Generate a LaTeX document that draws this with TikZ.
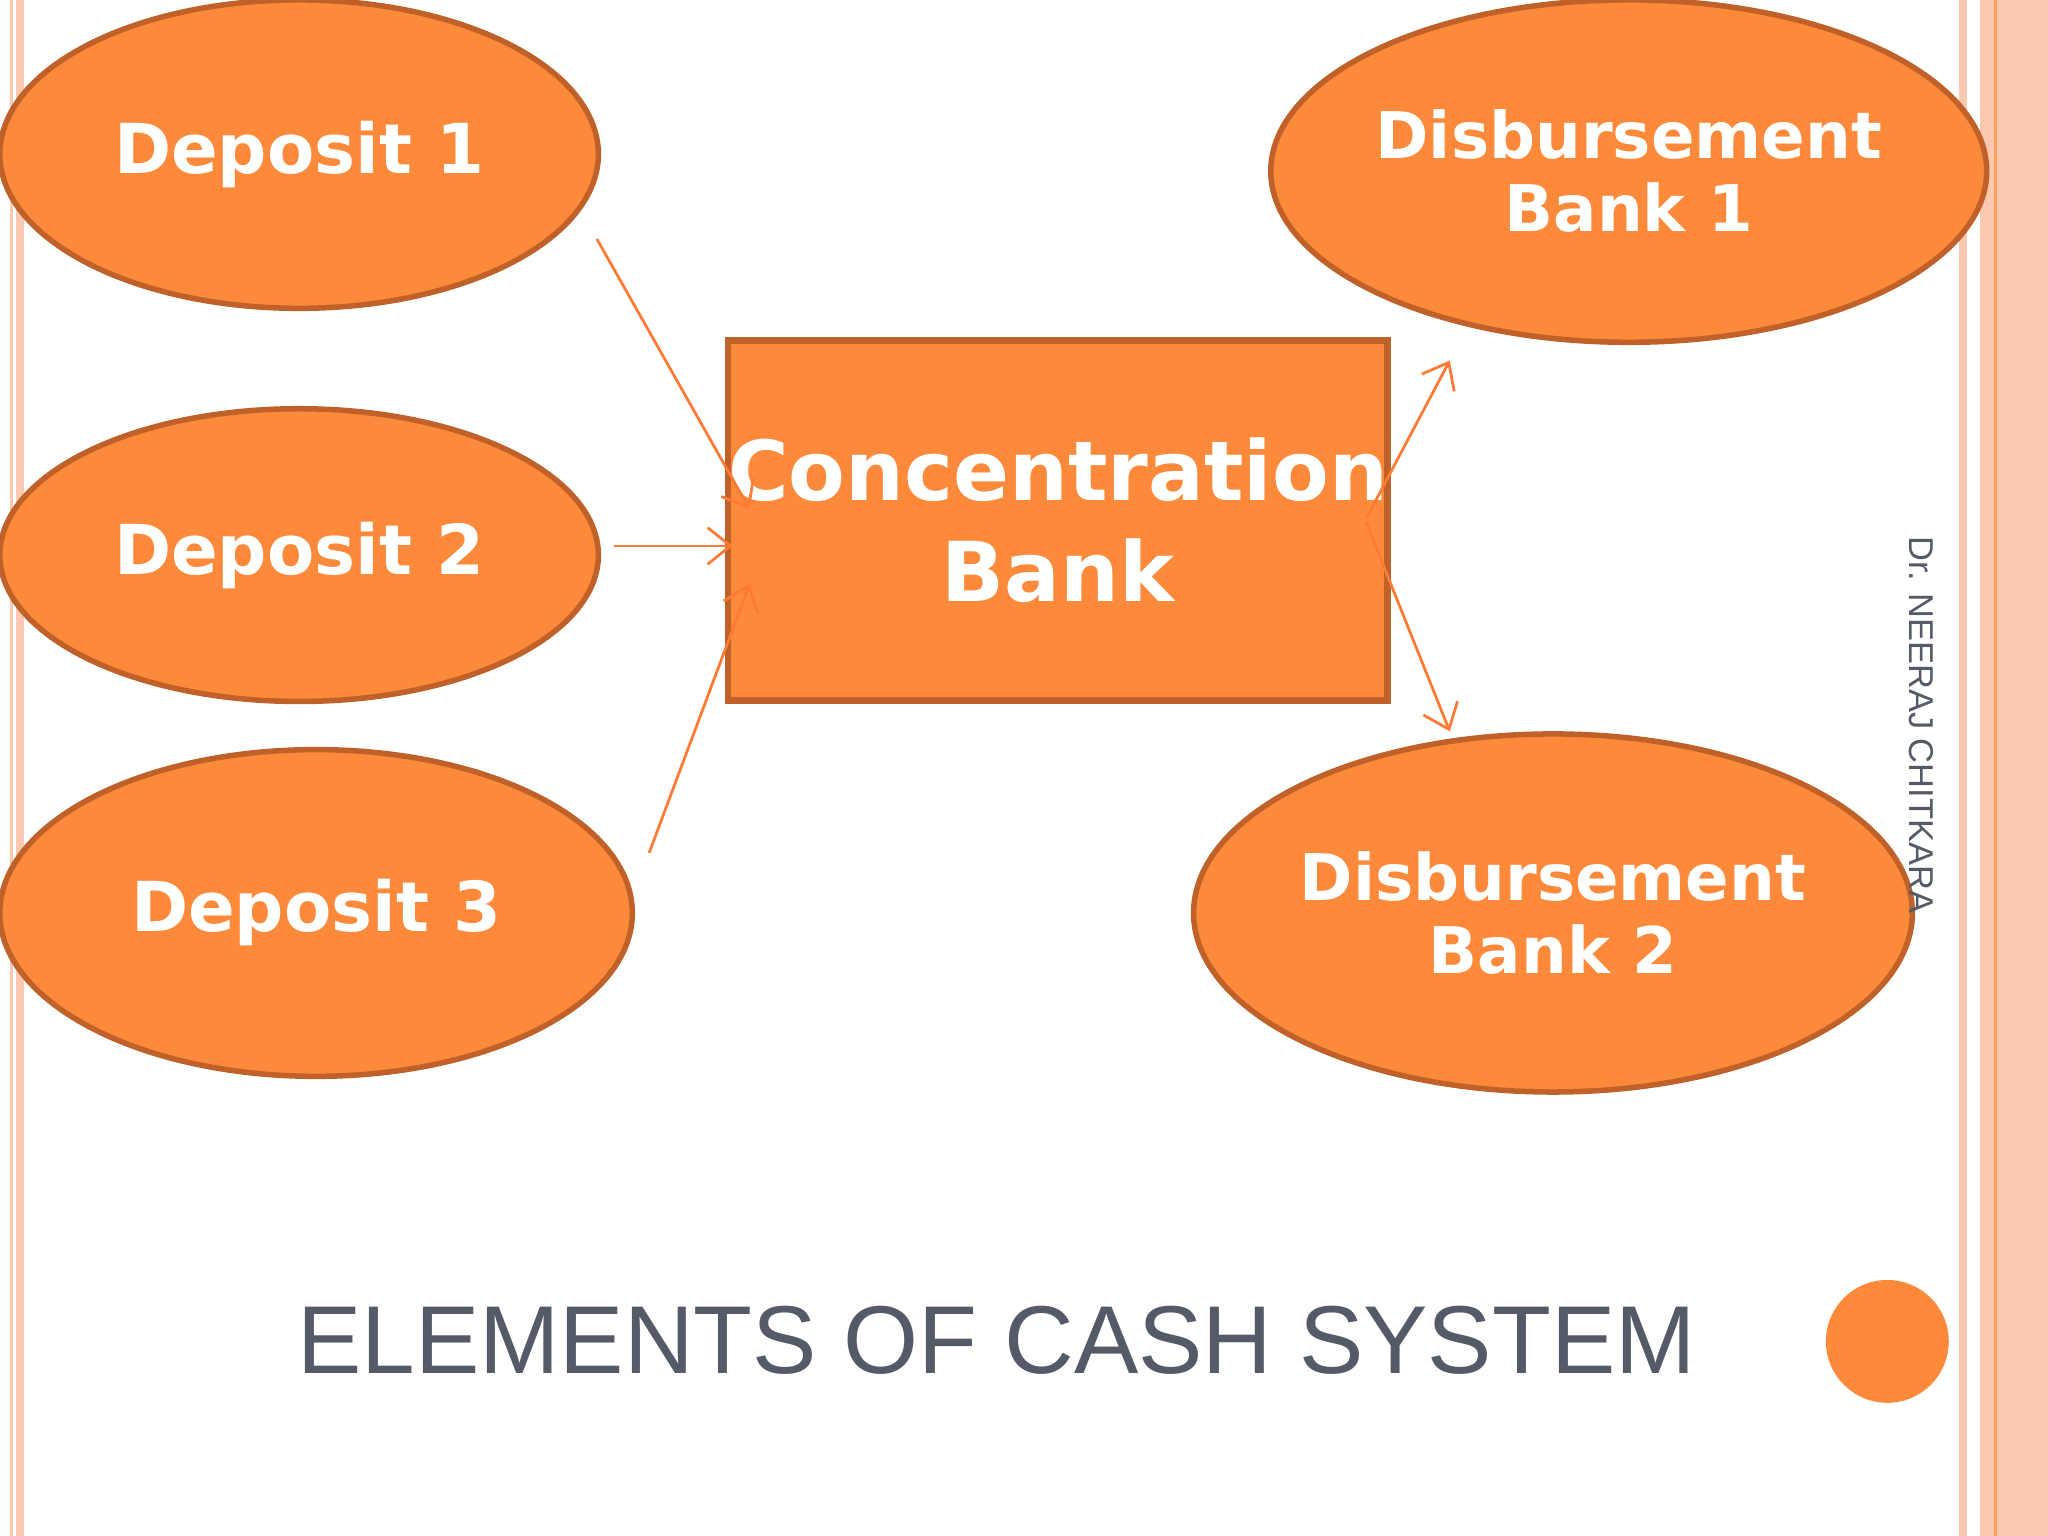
\documentclass[tikz,border=0pt]{standalone}
\usepackage{fontspec}
\setmainfont{DejaVu Sans}
\newfontfamily\lib{Liberation Sans}
\usetikzlibrary{shapes.geometric,arrows.meta}
\definecolor{fillo}{HTML}{FD893A}
\definecolor{edgeo}{HTML}{C0612A}
\definecolor{pinkl}{HTML}{FCC8B0}
\definecolor{titleg}{HTML}{555A68}
\begin{document}
\begin{tikzpicture}[x=0.01cm,y=-0.01cm,
  ell/.style={ellipse,draw=edgeo,line width=1.2pt,fill=fillo,text=white,font=\bfseries\fontsize{15}{17}\selectfont,align=center,inner sep=0pt},
  arr/.style={draw=fillo!90!red,line width=0.6pt,-{Straight Barb[length=5pt,width=8pt]}}]
\useasboundingbox (0,0) rectangle (1568,1176);
\fill[white] (0,0) rectangle (1568,1176);
% borders
\fill[pinkl] (8,0) rectangle (10,1176);
\fill[pinkl] (12,0) rectangle (18,1176);
\fill[pinkl] (1500,0) rectangle (1506,1176);
\fill[pinkl] (1516,0) rectangle (1568,1176);
\fill[fillo!80] (1527,0) rectangle (1529,1176);
% nodes
\node[ell,minimum width=458\pgflinewidth*0+4.58cm,minimum height=2.36cm] (d1) at (229,118) {Deposit 1};
\node[ell,minimum width=4.58cm,minimum height=2.24cm] (d2) at (229,425) {Deposit 2};
\node[ell,minimum width=4.84cm,minimum height=2.5cm] (d3) at (242,699) {Deposit 3};
\node[ell,minimum width=5.1cm,minimum height=2.62cm,font=\bfseries\fontsize{14}{16}\selectfont] (b1) at (1247,131) {Disbursement\\Bank 1};
\node[ell,minimum width=5.5cm,minimum height=2.74cm,font=\bfseries\fontsize{14}{16}\selectfont] (b2) at (1189,699) {Disbursement\\Bank 2};
\node[draw=edgeo,line width=1.5pt,fill=fillo,minimum width=4.72cm,minimum height=2.75cm,text=white,font=\bfseries\fontsize{18}{22}\selectfont,align=center,inner sep=0pt] (cb) at (810,398.5) {Concentration\\Bank};
% free ends
\coordinate (s1) at (457,183); \coordinate (e1) at (574,390);
\coordinate (s2) at (470,418); \coordinate (e2) at (561,418);
\coordinate (s3) at (497,653); \coordinate (e3) at (574,447);
\coordinate (o1) at (1046,397); \coordinate (t1) at (1110,276);
\coordinate (o2) at (1046,400); \coordinate (t2) at (1110,560);
\draw[arr] (s1) -- (e1);
\draw[arr] (s2) -- (e2);
\draw[arr] (s3) -- (e3);
\draw[arr] (o1) -- (t1);
\draw[arr] (o2) -- (t2);
% side text
\node[rotate=-90,text=titleg,font=\lib\fontsize{7.5}{9}\selectfont,inner sep=0pt] (auth) at (1471,555) {Dr. NEERAJ CHITKARA};
% title
\node[text=titleg,font=\lib\fontsize{21}{25}\selectfont,inner sep=0pt] (title) at (763,1026) {ELEMENTS OF CASH SYSTEM};
\node[circle,fill=fillo,minimum size=0.94cm,inner sep=0pt] (dot) at (1445,1027) {};
\end{tikzpicture}
\end{document}
